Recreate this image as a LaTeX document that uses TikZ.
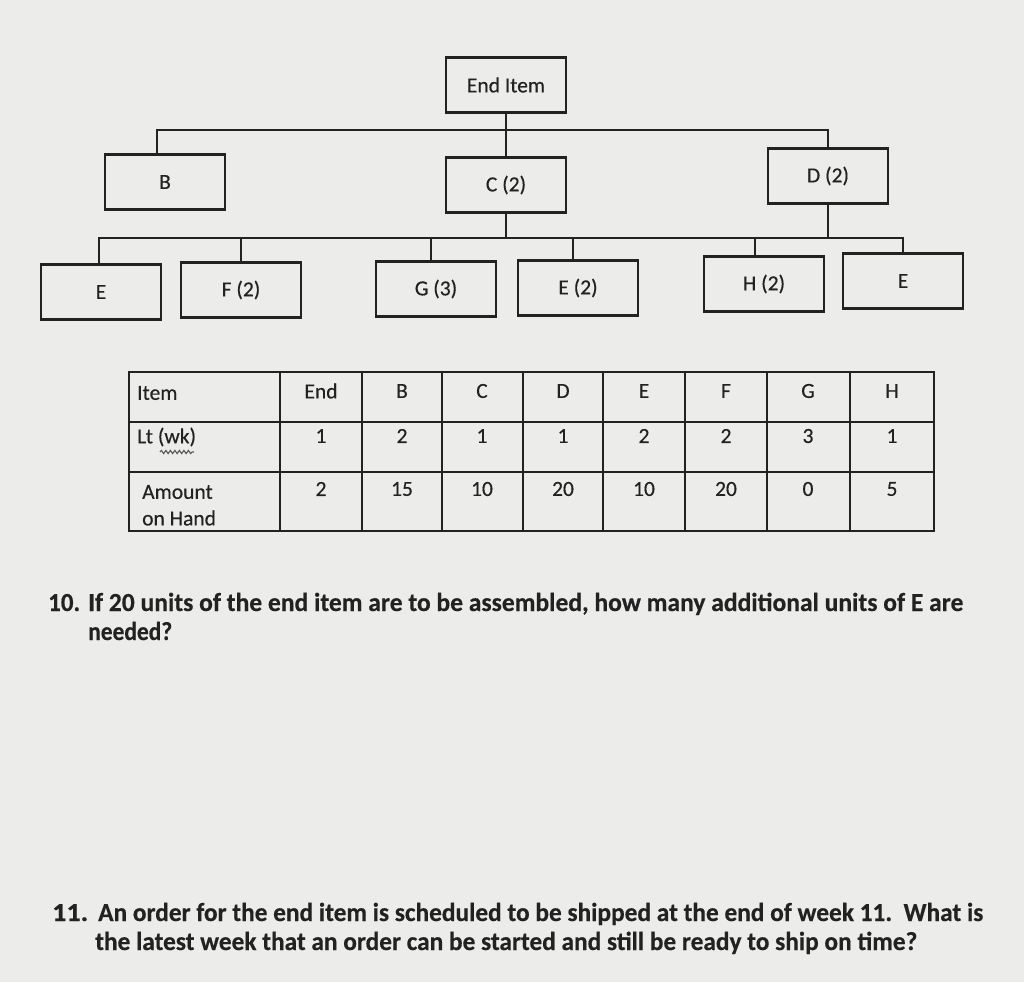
\documentclass[tikz,border=0pt]{standalone}
\usepackage{fontspec}
\setmainfont{Carlito}[FakeBold=0.4]
\usepackage{graphicx}
\usetikzlibrary{decorations.pathmorphing}
\definecolor{paper}{RGB}{236,236,234}
\definecolor{ink}{RGB}{34,34,34}
\newcommand{\fitline}[2]{\resizebox{#1}{\height}{#2}}
\begin{document}
\begin{tikzpicture}[x=1pt,y=-1pt,
  box/.style={draw=ink,line width=2.6pt,minimum width=120pt,minimum height=55pt,inner sep=0pt,font=\fontsize{21.5}{24}\selectfont,text=ink},
  link/.style={draw=ink,line width=2.4pt},
  gridline/.style={draw=ink,line width=1.8pt},
  cell/.style={font=\fontsize{21.5}{24}\selectfont,text=ink,inner sep=0pt},
  lbl/.style={cell,anchor=west},
  q/.style={font=\bfseries\fontsize{26}{30}\selectfont,text=ink,inner sep=0pt,anchor=base west}]

\fill[paper] (0,0) rectangle (1024,982);
\useasboundingbox (0,0) rectangle (1024,982);

% ---- product tree ----
\node[box] (end) at (506,85) {End Item};
\node[box] (B)  at (165,182) {B};
\node[box] (C)  at (506,185) {C (2)};
\node[box] (D)  at (828,176) {D (2)};
\node[box] (E1) at (101,292) {E};
\node[box] (F)  at (241,290) {F (2)};
\node[box] (G)  at (436,289) {G (3)};
\node[box] (E2) at (578,288) {E (2)};
\node[box] (H)  at (764,284) {H (2)};
\node[box] (E3) at (903,281) {E};

\coordinate (bar1) at (506,130);
\coordinate (bar2) at (506,238);

\draw[link] (end.south) -- (C.north);
\draw[link] ([xshift=-8pt]B.north) |- (bar1) -| (D.north);
\draw[link] (C.south) -- (bar2);
\draw[link] ([xshift=-2pt]E1.north) |- (E3.north |- bar2) -- (E3.north);
\draw[link] (F.north) -- (F.north |- bar2);
\draw[link] ([xshift=-5pt]G.north) -- ([xshift=-5pt]G.north |- bar2);
\draw[link] ([xshift=-5pt]E2.north) -- ([xshift=-5pt]E2.north |- bar2);
\draw[link] (D.south) -- (D.south |- bar2);
\draw[link] ([xshift=-9pt]H.north) -- ([xshift=-9pt]H.north |- bar2);

% ---- table ----
\draw[gridline] (129,372) rectangle (934,531);
\foreach \x in {280,362,442,523,603,685,767,850} \draw[gridline] (\x,372) -- (\x,531);
\foreach \y in {422,472} \draw[gridline] (129,\y) -- (934,\y);

\node[lbl] (tItem) at (137,393) {Item};
\node[lbl] (tLt) at (137,437) {Lt (wk)};
\node[lbl] (tAm) at (142,492) {Amount};
\node[lbl] (tOn) at (142,518) {on Hand};
\draw[ink!75,line width=1.1pt,decorate,decoration={snake,amplitude=1.6pt,segment length=4.5pt}] (160,452) -- (194,452);

\foreach \n/\x/\h/\l/\a in {End/321/End/1/2, B/402/B/2/15, C/482/C/1/10, D/563/D/1/20, E/644/E/2/10, F/726/F/2/20, G/808/G/3/0, H/892/H/1/5}{
  \node[cell] (h\n) at (\x,391) {\h};
  \node[cell] (l\n) at (\x,436) {\l};
  \node[cell] (a\n) at (\x,489) {\a};
}

% ---- questions ----
\node[q] (q10n) at (48,611) {\fitline{32pt}{10.}};
\node[q] (q10a) at (88,611) {\fitline{875pt}{If 20 units of the end item are to be assembled, how many additional units of E are}};
\node[q] (q10b) at (88,640) {\fitline{84pt}{needed?}};
\node[q] (q11n) at (52,921) {\fitline{36pt}{11.}};
\node[q] (q11a) at (98,921) {\fitline{885pt}{An order for the end item is scheduled to be shipped at the end of week 11.\ \ What is}};
\node[q] (q11b) at (95,950) {\fitline{822pt}{the latest week that an order can be started and still be ready to ship on time?}};
\end{tikzpicture}
\end{document}
